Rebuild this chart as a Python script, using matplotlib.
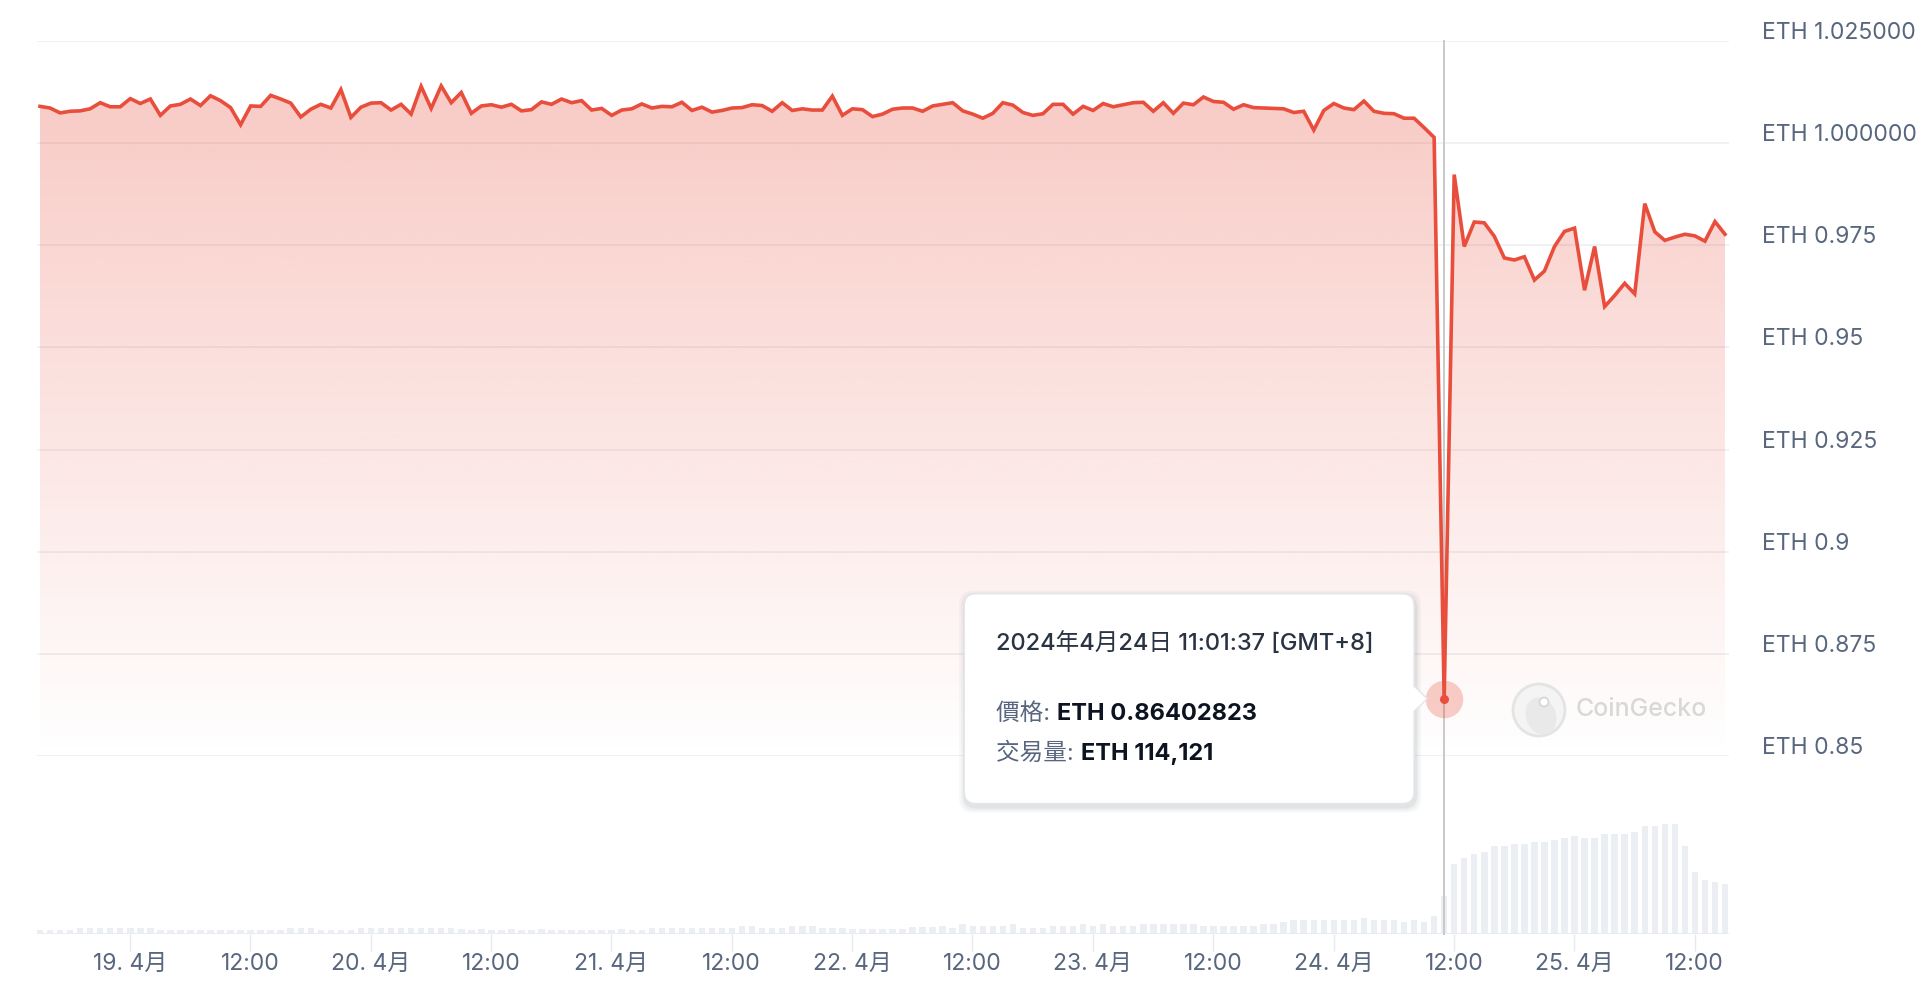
import numpy as np
import pandas as pd
import matplotlib
matplotlib.use("Agg")
import matplotlib.pyplot as plt
import matplotlib.dates as mdates
import matplotlib.colors as mcolors
from matplotlib.patches import FancyBboxPatch, Polygon, Circle, Ellipse
from matplotlib.transforms import ScaledTranslation

plt.rcParams['font.family'] = ['Inter', 'Noto Sans CJK TC', 'DejaVu Sans']

# hourly samples, first one at 18 Apr 15:01:37 (GMT+8)
start = '2024-04-18 15:01:37'

prices = [
    1.0090, 1.0086, 1.0074, 1.0078, 1.0079, 1.0084, 1.0099, 1.0089, 1.0089, 1.0109, 1.0097, 1.0108,
    1.0068, 1.0091, 1.0095, 1.0108, 1.0092, 1.0116, 1.0104, 1.0087, 1.0045, 1.0091, 1.0090, 1.0117,
    1.0108, 1.0098, 1.0064, 1.0083, 1.0095, 1.0086, 1.0131, 1.0063, 1.0088, 1.0098, 1.0099, 1.0081,
    1.0095, 1.0071, 1.0139, 1.0085, 1.0140, 1.0099, 1.0124, 1.0073, 1.0091, 1.0094, 1.0088, 1.0095,
    1.0079, 1.0082, 1.0101, 1.0095, 1.0108, 1.0099, 1.0104, 1.0081, 1.0085, 1.0068, 1.0081, 1.0084,
    1.0096, 1.0086, 1.0090, 1.0089, 1.0100, 1.0080, 1.0088, 1.0076, 1.0080, 1.0086, 1.0087, 1.0094,
    1.0092, 1.0078, 1.0099, 1.0080, 1.0084, 1.0081, 1.0081, 1.0115, 1.0068, 1.0084, 1.0082, 1.0065,
    1.0071, 1.0083, 1.0086, 1.0086, 1.0078, 1.0091, 1.0095, 1.0099, 1.0079, 1.0071, 1.0061,
    1.0073, 1.0099, 1.0093, 1.0075, 1.0068, 1.0072, 1.0095, 1.0095, 1.0071, 1.0090, 1.0080, 1.0097,
    1.0089, 1.0094, 1.0099, 1.0100, 1.0078, 1.0099, 1.0073, 1.0098, 1.0094, 1.0113, 1.0102, 1.0100,
    1.0083, 1.0094, 1.0087, 1.0086, 1.0085, 1.0084, 1.0075, 1.0078, 1.0032, 1.0080, 1.0097, 1.0086,
    1.0082, 1.0103, 1.0078, 1.0073, 1.0072, 1.0061, 1.0061, 1.0038, 1.0014,
    0.86402823,
    0.9923, 0.9747, 0.9807, 0.9805, 0.9772, 0.9719, 0.9714, 0.9722, 0.9665, 0.9687, 0.9747, 0.9784,
    0.9792, 0.9640, 0.9747, 0.9600, 0.9627, 0.9657, 0.9631, 0.9852, 0.9783, 0.9762, 0.9770, 0.9777,
    0.9773, 0.9760, 0.9808, 0.9777,
]

# 24h volume in ETH
volumes = [
    12000, 12000, 12000, 12000, 18000, 18000, 18000, 18000, 18000, 18000, 18000, 18000,
    12000, 12000, 12000, 12000, 12000, 12000, 12000, 12000, 12000, 12000, 12000, 12000,
    12000, 18000, 18000, 18000, 12000, 12000, 12000, 12000, 18000, 18000, 18000, 18000,
    18000, 18000, 18000, 18000, 18000, 18000, 15000, 12000, 15000, 12000, 12000, 15000,
    12000, 12000, 15000, 12000, 12000, 12000, 12000, 12000, 12000, 12000, 15000, 12000,
    12000, 18000, 18000, 18000, 18000, 18000, 18000, 18000, 18000, 18000, 24000, 24000,
    18000, 18000, 18000, 24000, 24000, 24000, 18000, 18000, 18000, 15000, 15000, 15000,
    15000, 15000, 15000, 21000, 21000, 21000, 24000, 18000, 30000, 24000, 24000, 24000,
    24000, 30000, 18000, 18000, 18000, 24000, 24000, 24000, 30000, 24000, 30000, 24000,
    24000, 24000, 30000, 30000, 30000, 30000, 30000, 30000, 24000, 24000, 24000, 24000,
    24000, 24000, 30000, 30000, 36000, 42000, 42000, 42000, 42000, 42000, 42000, 42000,
    48000, 42000, 42000, 42000, 36000, 42000, 36000, 54000, 114121,
    210000, 228000, 240000, 246000, 264000, 264000, 270000, 270000, 276000, 276000, 282000, 288000,
    294000, 288000, 288000, 300000, 300000, 300000, 306000, 324000, 324000, 330000, 330000, 264000,
    186000, 162000, 156000, 150000,
]

y_ticks = [1.025, 1.0, 0.975, 0.95, 0.925, 0.9, 0.875, 0.85]
y_labels = ['ETH 1.025000', 'ETH 1.000000', 'ETH 0.975', 'ETH 0.95',
            'ETH 0.925', 'ETH 0.9', 'ETH 0.875', 'ETH 0.85']
x_tick_times = pd.date_range('2024-04-19 00:00', '2024-04-25 12:00', freq='12h')
x_labels = ['19. 4月', '12:00', '20. 4月', '12:00', '21. 4月', '12:00', '22. 4月', '12:00',
            '23. 4月', '12:00', '24. 4月', '12:00', '25. 4月', '12:00']

hover_idx = 140
hover_title = '2024年4月24日 11:01:37 [GMT+8]'
hover_price = 'ETH 0.86402823'
hover_volume = 'ETH 114,121'

times = pd.date_range(start, periods=len(prices), freq='h')
x = mdates.date2num(times)

RED = '#e94e3d'
GREY_TXT = '#58667e'
W, H = 1930, 992

fig = plt.figure(figsize=(W / 100, H / 100), dpi=100)


def frac(x0, y0, x1, y1):
    # pixel box (top-left origin) -> figure fraction rect
    return [x0 / W, 1 - y1 / H, (x1 - x0) / W, (y1 - y0) / H]


# price pane
ax = fig.add_axes(frac(37, 41, 1729, 756))
# volume pane
vax = fig.add_axes(frac(37, 634, 1729, 934))
ax.set_zorder(2)
vax.set_zorder(1)
for a in (ax, vax):
    a.patch.set_visible(False)
    for s in a.spines.values():
        s.set_visible(False)

xmin = x[0] - 0.3 / 24
xmax = x[0] + 168.4 / 24
ax.set_xlim(xmin, xmax)
vax.set_xlim(xmin, xmax)
ax.set_ylim(0.85, 1.025)

# gridlines
for v in y_ticks:
    ax.axhline(v, color='#eef0f3', lw=1.3, zorder=0)

# y labels on the right, sitting just above the gridline
lab_tr = ax.get_yaxis_transform() + ScaledTranslation(0, 2 / 100, fig.dpi_scale_trans)
for v, lab in zip(y_ticks, y_labels):
    ax.text(1.0195, v, lab, transform=lab_tr, ha='left', va='baseline',
            fontsize=16.5, color=GREY_TXT)

# gradient area fill
rgb = mcolors.to_rgb(RED)
grad = np.zeros((256, 1, 4))
grad[..., 0], grad[..., 1], grad[..., 2] = rgb
grad[..., 3] = np.linspace(0.32, 0.0, 256)[:, None]
im = ax.imshow(grad, aspect='auto', extent=[xmin, xmax, 0.85, 1.025],
               origin='upper', zorder=1, interpolation='bicubic')
fb = ax.fill_between(x, prices, 0.85, facecolor='none', edgecolor='none')
im.set_clip_path(fb.get_paths()[0], transform=ax.transData)

ax.plot(x, prices, color=RED, lw=2.6, solid_joinstyle='miter', zorder=3)

# crosshair + hovered point
hx, hy = x[hover_idx], prices[hover_idx]
ax.axvline(hx, ymin=(756 - 934) / 715, ymax=1, color='#c9c9c9', lw=1.4,
           clip_on=False, zorder=2.5)
ax.plot([hx], [hy], 'o', ms=27, color=RED, alpha=0.28, mec='none', zorder=4)
ax.plot([hx], [hy], 'o', ms=6.5, color=RED, mec='none', zorder=5)

ax.set_xticks([])
ax.set_yticks([])

# volume bars
vax.bar(x, volumes, width=6.5 / 10.03 / 24, color='#ebeef2', zorder=1)
vax.set_ylim(0, 300 * 3003)
vax.axhline(0, color='#e8ebef', lw=1.3, zorder=2)
vax.set_yticks([])
vax.set_xticks(mdates.date2num(x_tick_times))
vax.set_xticklabels(x_labels)
vax.tick_params(axis='x', length=12.5, width=1, color='#e6e9ee', pad=1,
                labelsize=16.5, labelcolor=GREY_TXT)

# overlay in pixel coordinates for tooltip and watermark
oax = fig.add_axes([0, 0, 1, 1])
oax.set_xlim(0, W)
oax.set_ylim(H, 0)
oax.axis('off')
oax.set_zorder(5)

fig.canvas.draw()
px, py = ax.transData.transform((hx, hy))
py = H - py

bx0, by0 = px - 480, py - 105
bw, bh = 450, 210
for k, al in [(6, 0.03), (4, 0.04), (2, 0.06)]:
    oax.add_patch(FancyBboxPatch((bx0 + 1, by0 + 3), bw, bh,
                                 boxstyle=f'round,pad={k},rounding_size=14',
                                 fc='#1f2937', ec='none', alpha=al))
oax.add_patch(FancyBboxPatch((bx0, by0), bw, bh, boxstyle='round,pad=0,rounding_size=12',
                             fc='white', ec='#e3e6ea', lw=1.2))
oax.add_patch(Polygon([(bx0 + bw - 1.5, py - 13), (px - 17, py), (bx0 + bw - 1.5, py + 13)],
                      closed=True, fc='white', ec='none'))
oax.plot([bx0 + bw, px - 17, bx0 + bw], [py - 13, py, py + 13], color='#e3e6ea', lw=1.0)

tx = bx0 + 32
oax.text(tx, by0 + 50, hover_title, ha='left', va='center', fontsize=17,
         color='#2a3342', fontweight='medium')
t1 = oax.text(tx, by0 + 120, '價格: ', ha='left', va='center', fontsize=17, color=GREY_TXT)
oax.annotate(hover_price, xy=(1, 0.5), xycoords=t1, ha='left', va='center',
             fontsize=17, color='#0d1421', fontweight='bold')
t2 = oax.text(tx, by0 + 160, '交易量: ', ha='left', va='center', fontsize=17, color=GREY_TXT)
oax.annotate(hover_volume, xy=(1, 0.5), xycoords=t2, ha='left', va='center',
             fontsize=17, color='#0d1421', fontweight='bold')

# CoinGecko watermark
oax.add_patch(Circle((1539, 710), 26, fc='#f4f4f4', ec='#e2e2e2', lw=2, alpha=0.9))
oax.add_patch(Ellipse((1541, 716), 30, 38, angle=-20, fc='#e9e9e9', ec='none'))
oax.add_patch(Circle((1544, 702), 4.5, fc='white', ec='#d5d5d5', lw=1.2))
oax.text(1576, 710, 'CoinGecko', ha='left', va='center', fontsize=18,
         color='#d8d8d8', fontweight='medium')

fig.savefig('out.png', dpi=100)
